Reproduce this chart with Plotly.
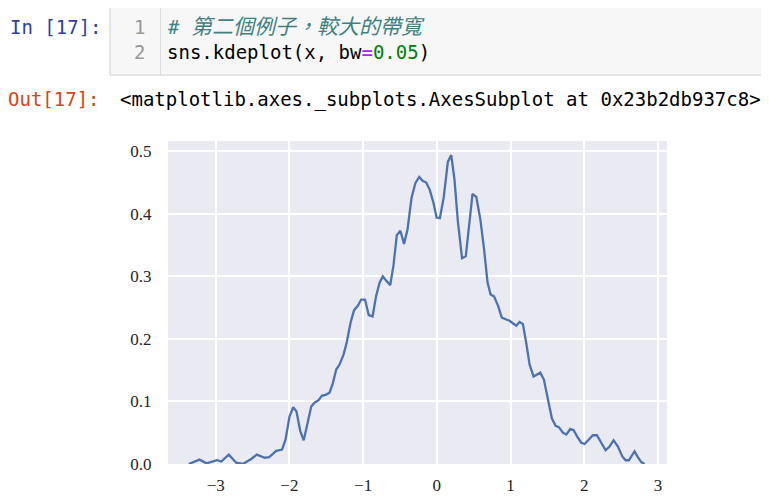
import plotly.graph_objects as go

# KDE curve values
kde_x = [-3.365, -3.220, -3.125, -3.057, -2.982, -2.925, -2.822, -2.722, -2.632, -2.518,
         -2.442, -2.334, -2.274, -2.179, -2.100, -2.053, -1.999, -1.948, -1.904, -1.852,
         -1.806, -1.764, -1.704, -1.659, -1.605, -1.560, -1.501, -1.456, -1.411, -1.365,
         -1.320, -1.266, -1.221, -1.171, -1.123, -1.072, -1.026, -0.974, -0.924, -0.872,
         -0.825, -0.777, -0.733, -0.678, -0.632, -0.588, -0.543, -0.495, -0.445, -0.398,
         -0.343, -0.292, -0.239, -0.194, -0.144, -0.095, -0.049, -0.004, 0.041, 0.094,
         0.149, 0.195, 0.240, 0.285, 0.342, 0.392, 0.440, 0.484, 0.535, 0.589,
         0.638, 0.688, 0.729, 0.776, 0.833, 0.881, 0.942, 0.986, 1.031, 1.077,
         1.122, 1.167, 1.213, 1.258, 1.312, 1.357, 1.403, 1.452, 1.506, 1.560,
         1.611, 1.655, 1.710, 1.756, 1.810, 1.855, 1.913, 1.959, 2.004, 2.062,
         2.117, 2.171, 2.231, 2.289, 2.343, 2.398, 2.456, 2.516, 2.560, 2.605,
         2.659, 2.682, 2.727, 2.773, 2.818]
kde_y = [0.000, 0.007, 0.001, 0.003, 0.006, 0.004, 0.015, 0.002, 0.000, 0.008,
         0.015, 0.010, 0.011, 0.021, 0.023, 0.039, 0.076, 0.091, 0.084, 0.052,
         0.038, 0.060, 0.092, 0.098, 0.102, 0.109, 0.111, 0.114, 0.129, 0.151,
         0.159, 0.175, 0.195, 0.226, 0.246, 0.253, 0.263, 0.263, 0.238, 0.236,
         0.268, 0.290, 0.300, 0.292, 0.286, 0.318, 0.366, 0.373, 0.352, 0.375,
         0.426, 0.449, 0.459, 0.453, 0.450, 0.438, 0.419, 0.394, 0.393, 0.427,
         0.483, 0.494, 0.454, 0.388, 0.329, 0.332, 0.385, 0.432, 0.427, 0.392,
         0.346, 0.290, 0.271, 0.268, 0.252, 0.234, 0.231, 0.229, 0.225, 0.221,
         0.227, 0.224, 0.193, 0.159, 0.140, 0.143, 0.146, 0.135, 0.103, 0.073,
         0.061, 0.059, 0.050, 0.047, 0.056, 0.054, 0.042, 0.034, 0.032, 0.039,
         0.046, 0.046, 0.034, 0.022, 0.028, 0.038, 0.028, 0.012, 0.006, 0.006,
         0.016, 0.020, 0.011, 0.003, 0.000]

x_ticks = [-3, -2, -1, 0, 1, 2, 3]
y_ticks = [0.0, 0.1, 0.2, 0.3, 0.4, 0.5]

in_prompt = "In [17]:"
out_prompt = "Out[17]:"
comment_mark = "# "
comment_cjk = "第二個例子，較大的帶寬"
out_text = "&lt;matplotlib.axes._subplots.AxesSubplot at 0x23b2db937c8&gt;"

OFF = 8  # page body margin
W, H = 769 - 2 * OFF, 503 - 2 * OFF
L, R, T, B = 168, 667, 141, 464.3  # plot area in page pixels


def px(x):
    return (x - L) / (R - L)


def py(y):
    return (B - y) / (B - T)


fig = go.Figure()
fig.add_trace(go.Scatter(x=kde_x, y=kde_y, mode="lines",
                         line=dict(color="#4C72B0", width=2.3), showlegend=False))

mono = "DejaVu Sans Mono, Liberation Mono, Noto Sans CJK TC, monospace"
shapes = [
    dict(type="rect", xref="paper", yref="paper", x0=px(110), x1=px(790), y0=py(5), y1=py(75),
         fillcolor="#F7F7F7", line=dict(color="#CFCFCF", width=1), layer="above"),
    dict(type="line", xref="paper", yref="paper", x0=px(160.5), x1=px(160.5), y0=py(6), y1=py(74),
         line=dict(color="#DDDDDD", width=1), layer="above"),
]
anns = [
    dict(text=in_prompt, x=px(8), y=py(27), xanchor="left", yanchor="middle",
         font=dict(family=mono, size=19, color="#303F9F")),
    dict(text="1", x=px(147), y=py(27), xanchor="right", yanchor="middle",
         font=dict(family=mono, size=19, color="#999999")),
    dict(text="2", x=px(147), y=py(52), xanchor="right", yanchor="middle",
         font=dict(family=mono, size=19, color="#999999")),
    dict(text="<i>" + comment_mark + '<span style="font-size:21px">' + comment_cjk + "</span></i>",
         x=px(165), y=py(27), xanchor="left", yanchor="middle",
         font=dict(family=mono, size=19, color="#408080")),
    dict(text='sns.kdeplot(x, bw<span style="color:#AA22FF">=</span>'
              '<span style="color:#008000">0.05</span>)',
         x=px(165), y=py(52), xanchor="left", yanchor="middle",
         font=dict(family=mono, size=19, color="#000000")),
    dict(text=out_prompt, x=px(6), y=py(99), xanchor="left", yanchor="middle",
         font=dict(family=mono, size=19, color="#D84315")),
    dict(text=out_text, x=px(118), y=py(99), xanchor="left", yanchor="middle",
         font=dict(family=mono, size=19, color="#000000")),
]
for a in anns:
    a.update(xref="paper", yref="paper", showarrow=False)

fig.update_layout(
    width=W, height=H,
    margin=dict(l=L - OFF, r=769 - R - OFF, t=T - OFF, b=503 - B - OFF, pad=0),
    paper_bgcolor="white", plot_bgcolor="#EAEAF2",
    shapes=shapes, annotations=anns,
    font=dict(family="Liberation Serif, DejaVu Serif, serif", size=17, color="#262626"),
    xaxis=dict(range=[-3.647, 3.122], tickvals=x_ticks, showgrid=True, gridcolor="white",
               gridwidth=1.7, zeroline=False, showline=False, ticks="outside", ticklen=6,
               tickcolor="rgba(0,0,0,0)", tickfont=dict(size=17), automargin=False),
    yaxis=dict(range=[0, 0.5165], tickvals=y_ticks, tickformat=".1f", showgrid=True,
               gridcolor="white", gridwidth=1.7, zeroline=False, showline=False,
               ticks="outside", ticklen=12, tickcolor="rgba(0,0,0,0)", tickfont=dict(size=17),
               automargin=False),
)

fig.write_html("out.html")
